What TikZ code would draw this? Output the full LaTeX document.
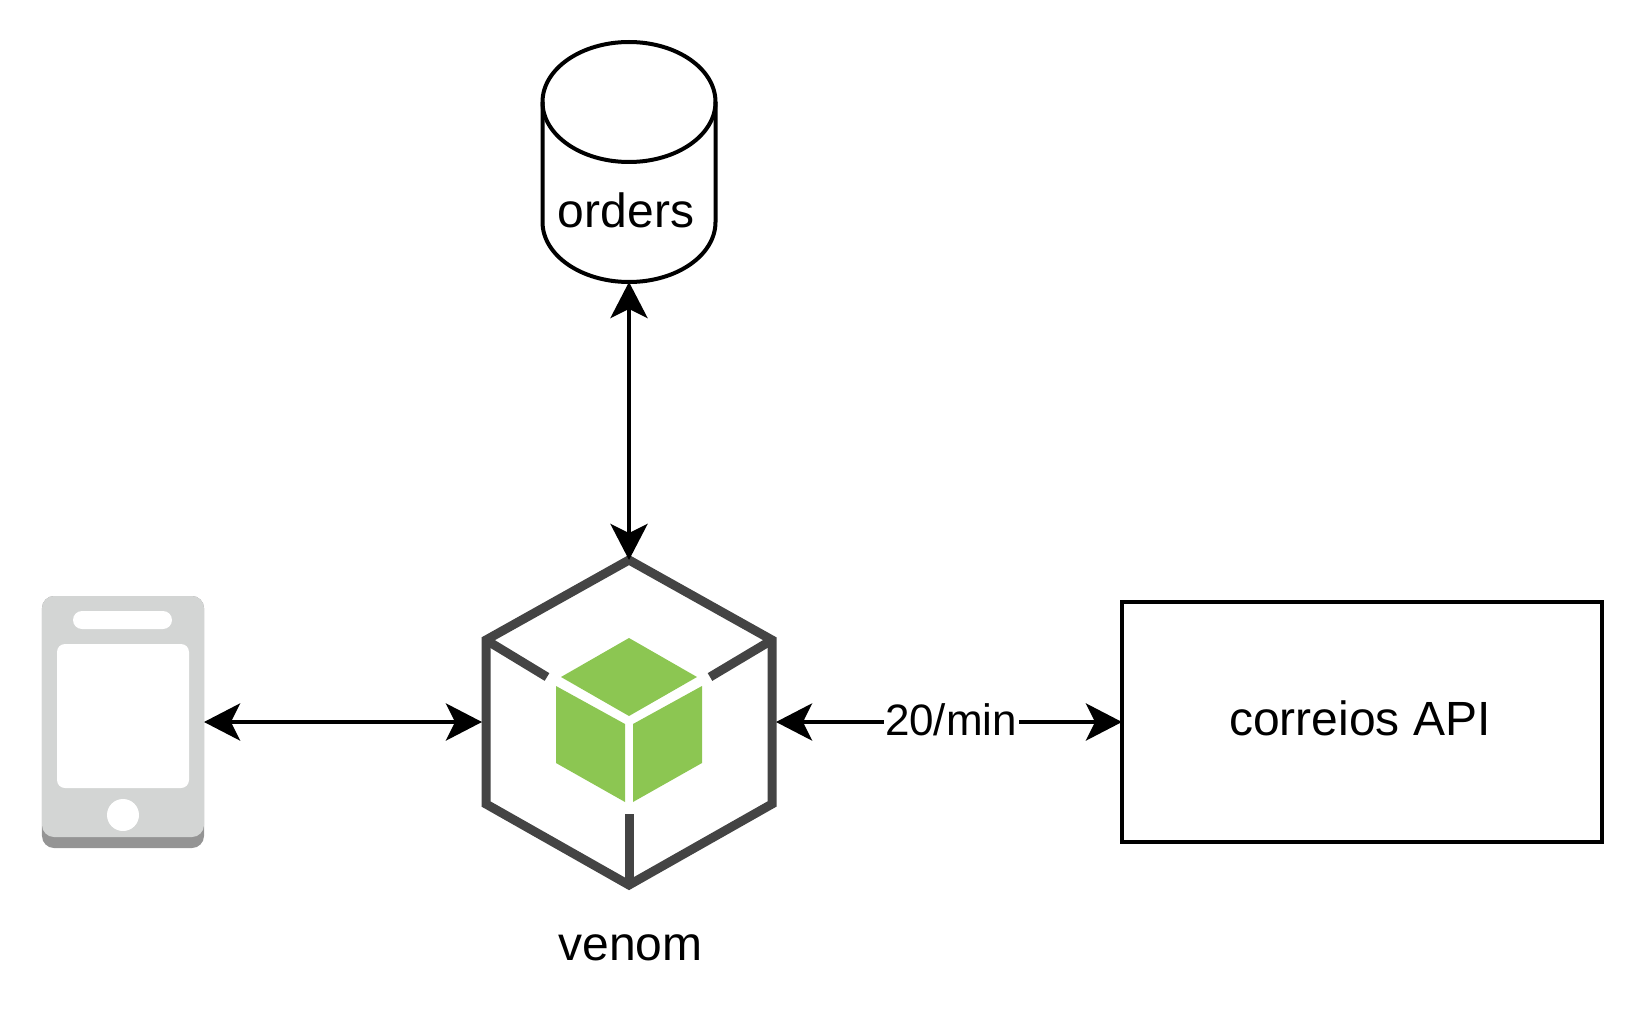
\documentclass[tikz,border=0pt]{standalone}
\usepackage{fontspec}
\setmainfont{Liberation Sans}
\usepackage{tikz}
\usetikzlibrary{arrows.meta}
\definecolor{hexgray}{HTML}{444444}
\definecolor{cubegreen}{HTML}{8CC652}
\definecolor{phonelight}{HTML}{D3D5D4}
\definecolor{phonedark}{HTML}{949494}

\begin{document}
\begin{tikzpicture}[x=1pt, y=-1pt]
    \tikzstyle{block} = [draw, rectangle, anchor=center, line width=4pt, inner sep=0pt, outer sep=0pt, minimum width=480pt, minimum height=240pt, text height=35pt, text depth=8pt, font=\fontsize{48}{58}\selectfont];
    \tikzstyle{dbcyl} = [rectangle, anchor=center, inner sep=0pt, outer sep=0pt, minimum width=173pt, minimum height=240pt];
    \tikzstyle{phonebody} = [rectangle, anchor=center, fill=phonedark, rounded corners=12pt, inner sep=0pt, outer sep=0pt, minimum width=162pt, minimum height=252pt];
    \tikzstyle{hexbox} = [rectangle, anchor=center, inner sep=0pt, outer sep=0pt, minimum width=294pt, minimum height=324pt];
    \tikzstyle{caption} = [inner sep=0pt, font=\fontsize{48}{58}\selectfont];
    \tikzstyle{rate} = [fill=white, inner xsep=1.5pt, inner ysep=0pt, text height=34pt, text depth=7pt, font=\fontsize{44}{53}\selectfont];
    \tikzstyle{hexline} = [draw=hexgray, line width=9pt, miter limit=10];
    \tikzstyle{line} = [draw, line width=4pt, {Stealth[length=36pt,width=37pt,inset=9pt]}-{Stealth[length=36pt,width=37pt,inset=9pt]}];
    \useasboundingbox (0,0) rectangle (1644,1016);
    \matrix[inner sep=0pt, outer sep=0pt, anchor=north west] at (42,42)
    {
        &[278pt] \node[dbcyl] (orders) {}; &[344pt] \\[278pt]
        \node[phonebody] (phone) {}; &[278pt]
        \node[hexbox] (venom) {}; &[344pt]
        \node[block] (correios) {correios API\kern4pt}; \\
    };
    \node[caption, anchor=base] (orderslabel) at ([xshift=-3pt,yshift=-66pt]orders.center) {orders};
    \node[caption, anchor=base] (venomlabel) at ([xshift=1.5pt,yshift=-76pt]venom.south) {venom};
    % orders cylinder
    \begin{scope}[shift={(orders.center)}]
        \draw[line width=4pt] (-86.5,-60) arc[start angle=180, end angle=-180, x radius=86.5pt, y radius=60pt];
        \draw[line width=4pt] (-86.5,-60) -- (-86.5,60) arc[start angle=180, end angle=360, x radius=86.5pt, y radius=60pt] -- (86.5,-60);
    \end{scope}
    % phone
    \begin{scope}[shift={(phone.center)}]
        \fill[phonelight, rounded corners=12pt] (-81,-126) rectangle (81,115);
        \fill[white, rounded corners=9pt] (-50,-111) rectangle (49,-93);
        \fill[white, rounded corners=8pt] (-66,-78) rectangle (66,66);
        \fill[white] (0,93) circle (16pt);
    \end{scope}
    % hexagon and cube
    \begin{scope}[shift={([yshift=-1pt]venom.center)}]
        \draw[hexline] (0,-163) -- (143,-83) -- (143,81) -- (0,162) -- (-143,81) -- (-143,-83) -- cycle;
        \draw[hexline] (-143,-83) -- (-82,-46);
        \draw[hexline] (143,-83) -- (81,-46);
        \draw[hexline] (0,162) -- (0,91);
        \fill[cubegreen] (0,-85) -- (68,-46) -- (0,-7) -- (-68,-46) -- cycle;
        \fill[cubegreen] (-73,-37) -- (-4,1) -- (-4,79) -- (-73,40) -- cycle;
        \fill[cubegreen] (73,-37) -- (4,1) -- (4,79) -- (73,40) -- cycle;
    \end{scope}
    \tikzstyle{every path}=[line]
    \path (phone.east) -- (venom.west);
    \path (venom.north) -- (orders.south);
    \path (venom.east) -- node[rate, pos=.506] (ratelabel) {20/min} (correios.west);
\end{tikzpicture}
\end{document}
